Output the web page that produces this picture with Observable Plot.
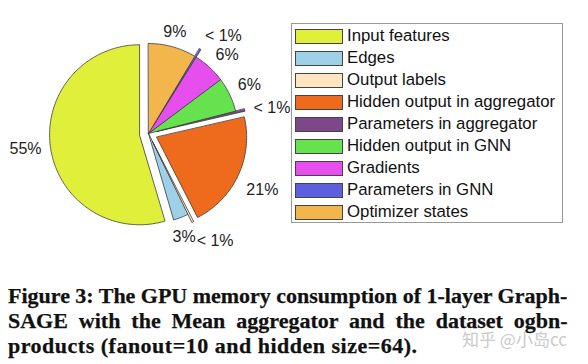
<!DOCTYPE html>
<html>
<head>
<meta charset="utf-8">
<script src="https://cdn.jsdelivr.net/npm/d3@7"></script>
<script src="https://cdn.jsdelivr.net/npm/@observablehq/plot@0.6"></script>
<style>
  body { margin: 0; background: #fff; }
  #wrap { position: relative; width: 588px; height: 364px; overflow: hidden; background: #fff; }
  #chart { position: absolute; left: 0; top: 0; }
  #legend { position: absolute; left: 291px; top: 23px; width: 270px; height: 198px; border: 1px solid #999;
            font-family: "Liberation Sans", Arial, sans-serif; font-size: 16.8px; color: #111; background: #fff; }
  .row { position: absolute; left: 3px; height: 22px; display: flex; align-items: center; white-space: nowrap; }
  .sw { width: 46px; height: 13px; border: 1px solid #444; margin-right: 4px; flex: none; }
  #caption { position: absolute; left: 8px; top: 283px; width: 560px;
             font-family: "Liberation Serif", "Times New Roman", serif; font-weight: bold;
             font-size: 22px; line-height: 25px; color: #111; -webkit-text-stroke: 0.25px #111; }
  #caption div { white-space: nowrap; }
  #caption .last { letter-spacing: 0.5px; }
  #wm { position: absolute; left: 462px; top: 331px; font-family: "Noto Sans CJK SC", sans-serif;
        font-size: 17px; line-height: 16px; color: #cacaca; white-space: nowrap; }
</style>
</head>
<body>
<div id="wrap">
  <div id="chart"></div>
  <div id="legend"></div>
  <div id="caption">
    <div class="j">Figure 3: The GPU memory consumption of 1-layer Graph-</div>
    <div class="j">SAGE with the Mean aggregator and the dataset ogbn-</div>
    <div class="last">products (fanout=10 and hidden size=64).</div>
  </div>
  <div id="wm">知乎 @小岛cc</div>
</div>
<script>
// ---- data ----
const categories = ["Input features", "Edges", "Output labels", "Hidden output in aggregator",
  "Parameters in aggregator", "Hidden output in GNN", "Gradients", "Parameters in GNN", "Optimizer states"];
const shares = [54.5, 2.7, 0.3, 21.1, 0.4, 6.2, 5.9, 0.3, 8.6];
const pctLabels = ["55%", "3%", "< 1%", "21%", "< 1%", "6%", "6%", "< 1%", "9%"];
const exploded = [1, 0, 1, 1, 1, 0, 0, 1, 0];
const colors = ["#e0ef3a", "#9ed0e8", "#fde5c0", "#ee6a1c", "#7e478a", "#66e24f", "#e64eee", "#5c5fe0", "#f2b64c"];

// ---- geometry (unit pie, counter-clockwise from 12 o'clock) ----
const PX = 90; // pixels per unit radius
const total = d3.sum(shares);
let acc = 0;
const slices = categories.map((c, i) => {
  const a0 = acc / total * 2 * Math.PI;
  acc += shares[i];
  const a1 = acc / total * 2 * Math.PI;
  const mid = (a0 + a1) / 2;
  const dx = -Math.sin(mid), dy = Math.cos(mid);
  const off = exploded[i] ? 0.1 : 0;
  return { c, i, a0, a1, dx, dy, ox: dx * off, oy: dy * off };
});
const pts = [];
for (const s of slices) {
  pts.push({ c: s.c, x: s.ox, y: s.oy });
  const n = Math.max(2, Math.ceil((s.a1 - s.a0) / (Math.PI / 180)));
  for (let k = 0; k <= n; k++) {
    const a = s.a0 + (s.a1 - s.a0) * k / n;
    pts.push({ c: s.c, x: s.ox - Math.sin(a), y: s.oy + Math.cos(a) });
  }
}
const labelFont = '16px "Liberation Sans", Arial, sans-serif';
const ctx = document.createElement("canvas").getContext("2d");
ctx.font = labelFont;
// label anchored at 1.1 R, aligned away from the pie (left/center/right, bottom/middle/top)
const labels = slices.map(s => {
  const w = ctx.measureText(pctLabels[s.i]).width;
  const hx = s.dx > 0.4 ? w / 2 : s.dx < -0.4 ? -w / 2 : 0;
  const vy = s.dy > 0.3 ? 6 : s.dy < -0.3 ? -11 : 0;
  return { t: pctLabels[s.i], x: s.ox + s.dx * 1.1 + hx / PX, y: s.oy + s.dy * 1.1 + vy / PX };
});

const W = 290, H = 260, CX = 148, CY = 133;
const chart = Plot.plot({
  width: W, height: H, margin: 0,
  x: { domain: [-CX / PX, (W - CX) / PX], axis: null },
  y: { domain: [-(H - CY) / PX, CY / PX], axis: null },
  color: { domain: categories, range: colors },
  style: { background: "transparent", overflow: "visible" },
  marks: [
    Plot.line(pts, { x: "x", y: "y", z: "c", fill: "c", stroke: "#3a3a3a", strokeWidth: 0.8, curve: "linear-closed" }),
    Plot.text(labels, { x: "x", y: "y", text: "t", fontSize: 16, fontFamily: '"Liberation Sans", Arial, sans-serif',
      fill: "#222", textAnchor: "middle", lineAnchor: "middle" })
  ]
});
document.getElementById("chart").appendChild(chart);

// ---- legend ----
const legend = document.getElementById("legend");
categories.forEach((c, i) => {
  const row = document.createElement("div");
  row.className = "row";
  row.style.top = (1 + 22 * i) + "px";
  const sw = document.createElement("div");
  sw.className = "sw";
  sw.style.background = colors[i];
  const tx = document.createElement("span");
  tx.textContent = c;
  row.appendChild(sw); row.appendChild(tx);
  legend.appendChild(row);
});

// ---- justify caption lines (distribute spare width over word spaces) ----
const capCtx = document.createElement("canvas").getContext("2d");
capCtx.font = 'bold 22px "Liberation Serif", "Times New Roman", serif';
document.querySelectorAll("#caption .j").forEach(el => {
  const t = el.textContent;
  const natural = capCtx.measureText(t).width;
  const spaces = (t.match(/ /g) || []).length;
  el.style.wordSpacing = ((560 - natural) / spaces) + "px";
});
</script>
</body>
</html>
